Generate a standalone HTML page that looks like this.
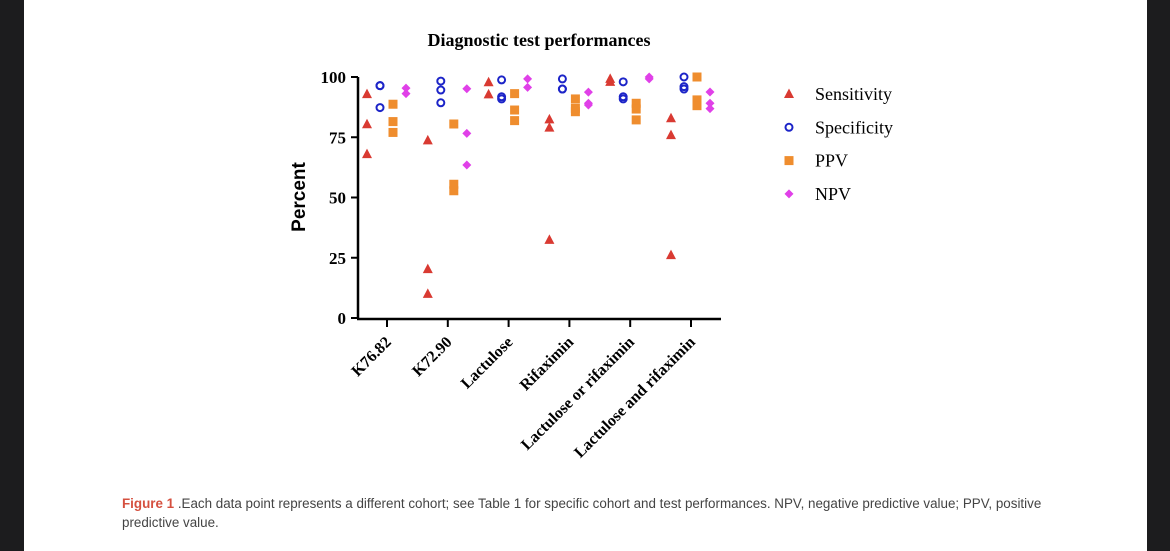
<!DOCTYPE html>
<html><head><meta charset="utf-8"><style>
body{margin:0;width:1170px;height:551px;overflow:hidden;background:#1c1c1e;position:relative;font-family:"Liberation Sans",sans-serif}
#page{position:absolute;left:24px;top:0;width:1123px;height:551px;background:#fff}
#cap{position:absolute;left:122px;top:494px;width:962px;font-size:13.4px;line-height:19px;color:#444}
#cap b{color:#d5503f;font-weight:bold}
</style></head><body>
<div id="page"></div>
<svg id="chart" width="1170" height="551" style="position:absolute;left:0;top:0"></svg>
<div id="cap"><b>Figure 1</b> .Each data point represents a different cohort; see Table 1 for specific cohort and test performances. NPV, negative predictive value; PPV, positive predictive value.</div>
<script>
const categories=["K76.82","K72.90","Lactulose","Rifaximin","Lactulose or rifaximin","Lactulose and rifaximin"];
const sensitivity=[[92.9,80.4,68],[73.7,20.3,10],[97.8,92.8],[82.4,79,32.4],[99.2,98],[82.9,75.9,26.1]];
const specificity=[[96.4,96.4,87.3],[98.3,94.6,89.3],[98.8,91.8,90.9],[99.2,95,95],[98,91.8,90.9],[100,96,95]];
const ppv=[[88.7,81.5,77],[80.5,55.5,52.8],[93.1,86.3,81.9],[90.9,87,85.6],[89.1,86.7,82.2],[100,90.5,88.1]];
const npv=[[95.4,93.1],[95.1,76.6,63.5],[99.2,95.7],[93.7,89.1,88.4],[100,99.2],[93.8,89.1,86.9]];
const yTicks=[0,25,50,75,100];
const seriesNames=["Sensitivity","Specificity","PPV","NPV"];
const NS="http://www.w3.org/2000/svg",svg=document.getElementById('chart');
function mk(t,a,p){const e=document.createElementNS(NS,t);for(const k in a)e.setAttribute(k,a[k]);(p||svg).appendChild(e);return e;}
const y=v=>318-v*2.41, x=i=>387+i*60.8;
const serif='"Liberation Serif",serif';
let t=mk('text',{x:539,y:46,'text-anchor':'middle','font-family':serif,'font-weight':'bold','font-size':18});t.textContent='Diagnostic test performances';


let ax=mk('path',{d:'M358,77V319M357,319H721',stroke:'#000','stroke-width':2.5,fill:'none'});


yTicks.forEach(v=>{mk('line',{x1:351,x2:358,y1:y(v),y2:y(v),stroke:'#000','stroke-width':2});
 const l=mk('text',{x:346,y:y(v)+6,'text-anchor':'end','font-family':serif,'font-weight':'bold','font-size':17});l.textContent=v;
 
 });
t=mk('text',{transform:'translate(305,197) rotate(-90)','text-anchor':'middle','font-weight':'bold','font-size':19});t.textContent='Percent';


categories.forEach((c,i)=>{mk('line',{x1:x(i),x2:x(i),y1:319,y2:327,stroke:'#000','stroke-width':2});
 const l=mk('text',{transform:`translate(${x(i)+5},343) rotate(-45)`,'text-anchor':'end','font-family':serif,'font-weight':'bold','font-size':16});l.textContent=c;
 
 });
function marker(k,cx,cy,g){
 if(k==0)return mk('path',{d:`M${cx},${cy-5.5}L${cx+5},${cy+4}H${cx-5}Z`,fill:'#d93a32'},g);
 if(k==1)return mk('circle',{cx,cy,r:3.5,fill:'none',stroke:'#1c24c8','stroke-width':2},g);
 if(k==2)return mk('rect',{x:cx-4.5,y:cy-4.5,width:9,height:9,fill:'#ef8d2e'},g);
 return mk('path',{d:`M${cx},${cy-4.5}L${cx+4.5},${cy}L${cx},${cy+4.5}L${cx-4.5},${cy}Z`,fill:'#e040e8'},g);
}
const offs=[-20,-7,6,19];
[sensitivity,specificity,ppv,npv].forEach((s,k)=>{
 const g=mk('g',{});
 
 
 s.forEach((vals,i)=>vals.forEach(v=>{const m=marker(k,x(i)+offs[k],y(v),g);
  
  }));
 const lg=mk('g',{});
 
 
 marker(k,789,94+k*33.3,lg);
 const lt=mk('text',{x:815,y:100+k*33.3,'font-family':serif,'font-size':18},lg);lt.textContent=seriesNames[k];
});
</script>
</body></html>
